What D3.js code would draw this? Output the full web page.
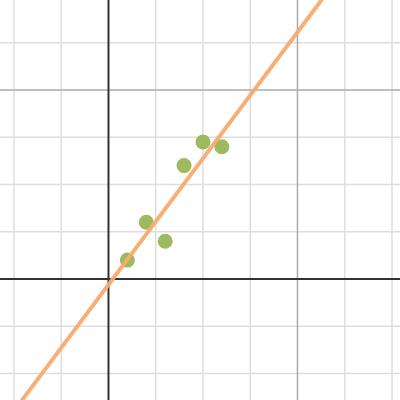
<!DOCTYPE html>
<html>
<head>
    <meta charset="utf-8">
    <title>Scatter with fit line</title>
    <style>
        body { margin: 0; background: #fff; }
    </style>
</head>
<body>
    <script src="https://d3js.org/d3.v7.min.js"></script>
    <script>
    // data
    const xValues = [0.2, 0.4, 0.6, 0.8, 1.0, 1.2];
    const yValues = [0.2, 0.6, 0.4, 1.2, 1.45, 1.4];
    const minorStep = 0.5;   // grid every 0.5, heavier line every 2
    const majorStep = 2;

    const width = 400;
    const height = 400;

    var x = d3.scaleLinear()
        .domain([-1.148, 3.085])
        .range([0, width]);
    var y = d3.scaleLinear()
        .domain([-1.28, 2.952])
        .range([height, 0]);

    var svg = d3.select("body")
        .append("svg")
        .attr("width", width)
        .attr("height", height);

    var minorX = d3.range(-1, 3.1, minorStep);
    var minorY = d3.range(-1, 3.0, minorStep);
    var isMajor = function(v) { return Math.abs(v / majorStep - Math.round(v / majorStep)) < 1e-6; };

    // minor grid
    svg.append("g").selectAll("line")
        .data(minorX.filter(function(d) { return !isMajor(d); }))
        .enter().append("line")
        .attr("x1", function(d) { return x(d); })
        .attr("x2", function(d) { return x(d); })
        .attr("y1", 0).attr("y2", height)
        .attr("stroke", "#dedede").attr("stroke-width", 1.5);
    svg.append("g").selectAll("line")
        .data(minorY.filter(function(d) { return !isMajor(d); }))
        .enter().append("line")
        .attr("y1", function(d) { return y(d); })
        .attr("y2", function(d) { return y(d); })
        .attr("x1", 0).attr("x2", width)
        .attr("stroke", "#dedede").attr("stroke-width", 1.5);

    // major grid
    svg.append("g").selectAll("line")
        .data(minorX.filter(function(d) { return isMajor(d) && d !== 0; }))
        .enter().append("line")
        .attr("x1", function(d) { return x(d); })
        .attr("x2", function(d) { return x(d); })
        .attr("y1", 0).attr("y2", height)
        .attr("stroke", "#ababab").attr("stroke-width", 1.5);
    svg.append("g").selectAll("line")
        .data(minorY.filter(function(d) { return isMajor(d) && d !== 0; }))
        .enter().append("line")
        .attr("y1", function(d) { return y(d); })
        .attr("y2", function(d) { return y(d); })
        .attr("x1", 0).attr("x2", width)
        .attr("stroke", "#ababab").attr("stroke-width", 1.5);

    // axes
    svg.append("line")
        .attr("x1", x(0)).attr("x2", x(0))
        .attr("y1", 0).attr("y2", height)
        .attr("stroke", "#333").attr("stroke-width", 2);
    svg.append("line")
        .attr("x1", 0).attr("x2", width)
        .attr("y1", y(0)).attr("y2", y(0))
        .attr("stroke", "#333").attr("stroke-width", 2);

    // points
    var points = xValues.map(function(d, i) { return [d, yValues[i]]; });
    svg.append("g").selectAll("circle")
        .data(points)
        .enter().append("circle")
        .attr("cx", function(d) { return x(d[0]); })
        .attr("cy", function(d) { return y(d[1]); })
        .attr("r", 7.5)
        .attr("fill", "#9dbb5e");

    // least squares line through the points
    var mx = d3.mean(xValues), my = d3.mean(yValues);
    var sxy = d3.sum(points, function(d) { return (d[0] - mx) * (d[1] - my); });
    var sxx = d3.sum(xValues, function(d) { return (d - mx) * (d - mx); });
    var slope = sxy / sxx;
    var intercept = my - slope * mx;
    var ends = x.domain().map(function(v) { return [v, intercept + slope * v]; });

    svg.append("path")
        .datum(ends)
        .attr("d", d3.line()
            .x(function(d) { return x(d[0]); })
            .y(function(d) { return y(d[1]); }))
        .attr("fill", "none")
        .attr("stroke", "#f7ab70")
        .attr("stroke-opacity", 0.95)
        .attr("stroke-width", 4);
    </script>
</body>
</html>
